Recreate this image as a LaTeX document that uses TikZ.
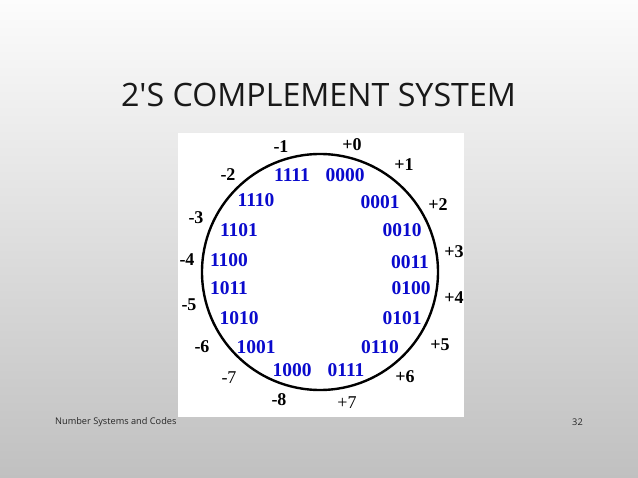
\documentclass[tikz,border=0pt]{standalone}
\usepackage{fontspec}
\setmainfont{Liberation Serif}
\newfontfamily\titlefont{Open Sans}
\definecolor{bitblue}{RGB}{10,10,205}
\definecolor{bgtop}{RGB}{252,252,252}
\definecolor{bgmid}{RGB}{238,238,238}
\definecolor{bgbot}{RGB}{192,192,192}
\tikzset{
  val/.style={font=\fontsize{18}{18}\selectfont\bfseries, text=black, inner sep=0pt},
  valn/.style={font=\fontsize{18}{18}\selectfont, text=black, inner sep=0pt},
  bits/.style={font=\fontsize{19.5}{19.5}\selectfont\bfseries, text=bitblue, inner sep=0pt},
}
\begin{document}
\begin{tikzpicture}[x=1pt,y=-1pt]
\useasboundingbox (0,0) rectangle (638,478);
\shade[top color=bgtop, middle color=bgmid, bottom color=bgbot] (0,0) rectangle (638,478);
% title
\node[anchor=base, font=\titlefont\fontsize{32.2}{32.2}\selectfont, text=black!90, inner sep=0pt] (title) at (318.5,107) {2'S COMPLEMENT SYSTEM};
% picture panel
\fill[white] (178,133) rectangle (464,417);
\draw[line width=2.4pt] (320,272) circle[radius=118];
% outside values
\node[val] (m1) at (281,147) {-1};
\node[val] (p0) at (352,145) {+0};
\node[val] (p1) at (404,165) {+1};
\node[val] (p2) at (438,205) {+2};
\node[val] (p3) at (454,252) {+3};
\node[val] (p4) at (454,298) {+4};
\node[val] (p5) at (440,345) {+5};
\node[val] (p6) at (405,377) {+6};
\node[valn] (p7) at (347,403) {+7};
\node[val] (m8) at (279,400) {-8};
\node[valn] (m7) at (229,378) {-7};
\node[val] (m6) at (202,347) {-6};
\node[val] (m5) at (189,305) {-5};
\node[val] (m4) at (187,260) {-4};
\node[val] (m3) at (196,218) {-3};
\node[val] (m2) at (228,175) {-2};
% bit patterns
\node[bits] (b15) at (292,175) {1111};
\node[bits] (b0) at (345,175) {0000};
\node[bits] (b1) at (380,202) {0001};
\node[bits] (b2) at (402,230) {0010};
\node[bits] (b3) at (410,262) {0011};
\node[bits] (b4) at (411,288) {0100};
\node[bits] (b5) at (402,318) {0101};
\node[bits] (b6) at (380,347) {0110};
\node[bits] (b7) at (346,370) {0111};
\node[bits] (b8) at (292,370) {1000};
\node[bits] (b9) at (256,347) {1001};
\node[bits] (b10) at (239,318) {1010};
\node[bits] (b11) at (229,288) {1011};
\node[bits] (b12) at (229,260) {1100};
\node[bits] (b13) at (239,230) {1101};
\node[bits] (b14) at (256,200) {1110};
% footer
\node[anchor=west, font=\titlefont\fontsize{9.2}{9.2}\selectfont, text=black!85, inner sep=0pt] (foot) at (55,422) {Number Systems and Codes};
\node[font=\titlefont\fontsize{9.2}{9.2}\selectfont, text=black!85, inner sep=0pt] (pg) at (577.5,422) {32};
\end{tikzpicture}
\end{document}
